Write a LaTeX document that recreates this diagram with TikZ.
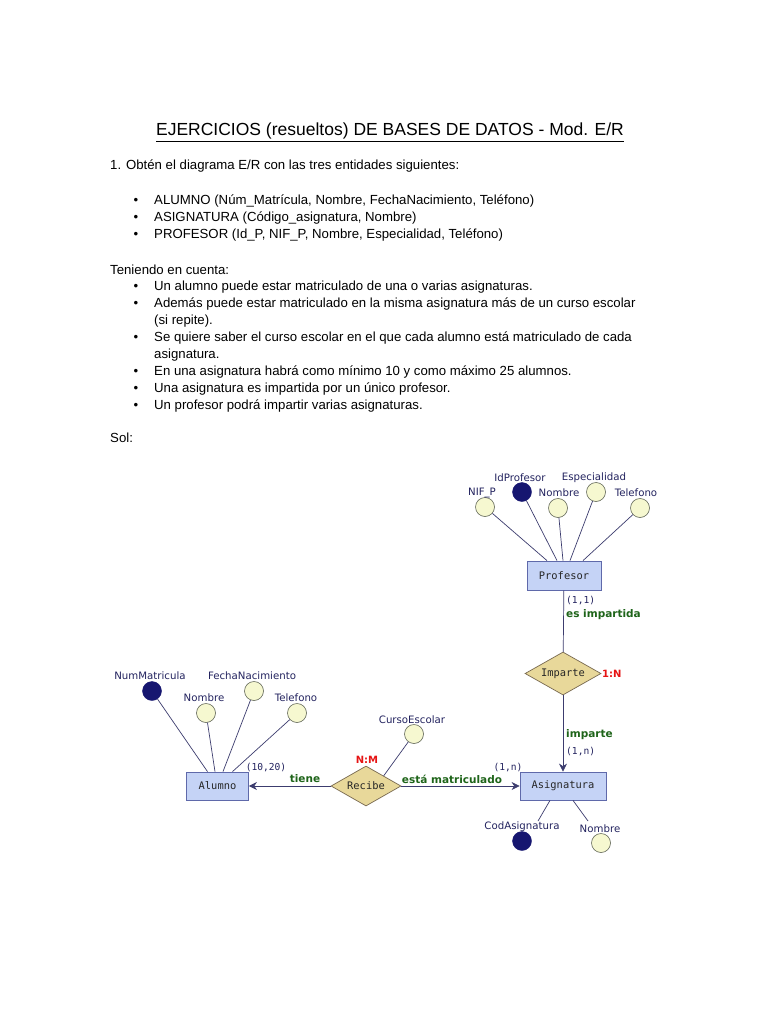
\documentclass[tikz,border=0pt]{standalone}
\usepackage{fontspec}
\setmainfont{Liberation Sans}
\newfontfamily\dv{DejaVu Sans}
\newfontfamily\dvm{DejaVu Sans Mono}
\usetikzlibrary{shapes.geometric,arrows.meta}
\definecolor{entfill}{RGB}{197,211,246}
\definecolor{entdraw}{RGB}{95,105,170}
\definecolor{relfill}{RGB}{232,216,154}
\definecolor{reldraw}{RGB}{120,105,80}
\definecolor{attrfill}{RGB}{246,248,208}
\definecolor{attrdraw}{RGB}{95,100,85}
\definecolor{keyfill}{RGB}{22,22,112}
\definecolor{linecol}{RGB}{60,60,110}
\definecolor{lblcol}{RGB}{35,35,95}
\definecolor{grn}{RGB}{30,100,25}
\definecolor{rd}{RGB}{230,20,20}
\tikzset{
  body/.style={anchor=base west,inner sep=0pt,font=\fontsize{13.2}{14}\selectfont},
  bul/.style={anchor=base,inner sep=0pt,font=\fontsize{13.2}{14}\selectfont},
  entity/.style={draw=entdraw,fill=entfill,line width=0.8pt,inner sep=0pt,font=\dvm\fontsize{10.4}{10}\selectfont,text=black!85},
  rel/.style={diamond,aspect=1.8,draw=reldraw,fill=relfill,line width=0.7pt,inner sep=0pt,minimum width=70pt,minimum height=40pt,font=\dvm\fontsize{10.4}{10}\selectfont,text=black!85},
  attr/.style={circle,draw=attrdraw,fill=attrfill,line width=0.6pt,minimum size=19pt,inner sep=0pt},
  keyattr/.style={circle,draw=keyfill,fill=keyfill,minimum size=19pt,inner sep=0pt},
  lbl/.style={inner sep=0pt,font=\dv\fontsize{10.2}{10}\selectfont,text=lblcol},
  card/.style={inner sep=0pt,anchor=west,font=\dvm\fontsize{9.6}{10}\selectfont,text=lblcol},
  role/.style={inner sep=0pt,anchor=west,font=\dv\bfseries\fontsize{10.5}{10}\selectfont,text=grn},
  ratio/.style={inner sep=0pt,font=\dv\bfseries\fontsize{10}{10}\selectfont,text=rd},
  conn/.style={draw=linecol,line width=0.7pt},
  arr/.style={conn,-{Stealth[length=8pt,width=8pt]}}
}
\begin{document}
\begin{tikzpicture}[x=1pt,y=-1pt]
\useasboundingbox[fill=white] (0,0) rectangle (768,1024);
% ---------- text ----------
\node[inner sep=0pt,anchor=base,font=\fontsize{17.5}{19}\selectfont] (title) at (390,136) {\underline{EJERCICIOS (resueltos) DE BASES DE DATOS - Mod. E/R}};
\node[body] (t1) at (110,170) {1. Obtén el diagrama E/R con las tres entidades siguientes:};
\node[bul] (b1) at (136,205) {•};
\node[body] (l1) at (154,205) {ALUMNO (Núm\_Matrícula, Nombre, FechaNacimiento, Teléfono)};
\node[bul] (b2) at (136,222) {•};
\node[body] (l2) at (154,222) {ASIGNATURA (Código\_asignatura, Nombre)};
\node[bul] (b3) at (136,239) {•};
\node[body] (l3) at (154,239) {PROFESOR (Id\_P, NIF\_P, Nombre, Especialidad, Teléfono)};
\node[body] (t2) at (110,274) {Teniendo en cuenta:};
\node[bul] (c1) at (136,290) {•};
\node[body] (m1) at (154,290) {Un alumno puede estar matriculado de una o varias asignaturas.};
\node[bul] (c2) at (136,307) {•};
\node[body] (m2) at (154,307) {Además puede estar matriculado en la misma asignatura más de un curso escolar};
\node[body] (m2b) at (154,324) {(si repite).};
\node[bul] (c3) at (136,341) {•};
\node[body] (m3) at (154,341) {Se quiere saber el curso escolar en el que cada alumno está matriculado de cada};
\node[body] (m3b) at (154,358) {asignatura.};
\node[bul] (c4) at (136,375) {•};
\node[body] (m4) at (154,375) {En una asignatura habrá como mínimo 10 y como máximo 25 alumnos.};
\node[bul] (c5) at (136,392) {•};
\node[body] (m5) at (154,392) {Una asignatura es impartida por un único profesor.};
\node[bul] (c6) at (136,409) {•};
\node[body] (m6) at (154,409) {Un profesor podrá impartir varias asignaturas.};
\node[body] (sol) at (110,442) {Sol:};
% ---------- diagram: entities ----------
\node[entity,minimum width=74pt,minimum height=29pt] (prof) at (564,575.5) {Profesor};
\node[entity,minimum width=86pt,minimum height=28pt] (asig) at (563,786) {Asignatura};
\node[entity,minimum width=62pt,minimum height=28pt] (alum) at (217.5,786) {Alumno};
% relationships
\node[rel,minimum width=76pt,minimum height=43pt] (imparte) at (563,673.5) {Imparte};
\node[rel] (recibe) at (366,786) {Recibe};
% Profesor attributes
\node[attr] (pnif) at (485,507) {};
\node[keyattr] (pid) at (522,492) {};
\node[attr] (pnom) at (558,508) {};
\node[attr] (pesp) at (596,492) {};
\node[attr] (ptel) at (640,508) {};
\node[lbl] (lpnif) at (482,493) {NIF\_P};
\node[lbl] (lpid) at (520,478) {IdProfesor};
\node[lbl] (lpnom) at (559,493) {Nombre};
\node[lbl] (lpesp) at (594,478) {Especialidad};
\node[lbl] (lptel) at (636,493) {Telefono};
\draw[conn] (pnif) -- ([xshift=-17pt]prof.north);
\draw[conn] (pid) -- ([xshift=-7pt]prof.north);
\draw[conn] (pnom) -- ([xshift=-1pt]prof.north);
\draw[conn] (pesp) -- ([xshift=6pt]prof.north);
\draw[conn] (ptel) -- ([xshift=19pt]prof.north);
% Alumno attributes
\node[keyattr] (anum) at (152,691) {};
\node[attr] (anom) at (206,713) {};
\node[attr] (afec) at (254,691) {};
\node[attr] (atel) at (297,713) {};
\node[lbl] (lanum) at (150,676) {NumMatricula};
\node[lbl] (lanom) at (204,698) {Nombre};
\node[lbl] (lafec) at (252,676) {FechaNacimiento};
\node[lbl] (latel) at (296,698) {Telefono};
\draw[conn] (anum) -- ([xshift=-10pt]alum.north);
\draw[conn] (anom) -- ([xshift=-2.5pt]alum.north);
\draw[conn] (afec) -- ([xshift=5.5pt]alum.north);
\draw[conn] (atel) -- ([xshift=15pt]alum.north);
% Asignatura attributes
\node[keyattr] (acod) at (522,841) {};
\node[attr] (anomb) at (601,843) {};
\node[lbl] (lacod) at (522,827) {CodAsignatura};
\node[lbl] (lanomb) at (600,829) {Nombre};
\coordinate (cend1) at (538,821);
\coordinate (cend2) at (588,821);
\draw[conn] ([xshift=-13pt]asig.south) -- (cend1);
\draw[conn] ([xshift=10pt]asig.south) -- (cend2);
% Recibe attribute
\node[attr] (curso) at (414,734) {};
\node[lbl] (lcurso) at (412,720) {CursoEscolar};
\draw[conn] (curso) -- (recibe.north east);
% relationships lines
\draw[conn] (prof) -- (imparte);
\draw[arr] (imparte) -- (asig);
\draw[arr] (recibe) -- (asig);
\draw[arr] (recibe) -- (alum);
% labels
\node[card] (k1) at (566,601) {(1,1)};
\node[role] (r1) at (566,615) {es impartida};
\node[ratio,anchor=west] (n1) at (602,674) {1:N};
\node[role] (r2) at (566,735) {imparte};
\node[card] (k2) at (566,752) {(1,n)};
\node[ratio] (n2) at (367,760) {N:M};
\node[role,anchor=center] (r3) at (452,779) {está matriculado};
\node[card,anchor=center] (k3) at (508,768) {(1,n)};
\node[role,anchor=center] (r4) at (305,779) {tiene};
\node[card,anchor=center] (k4) at (266,768) {(10,20)};
\end{tikzpicture}
\end{document}
